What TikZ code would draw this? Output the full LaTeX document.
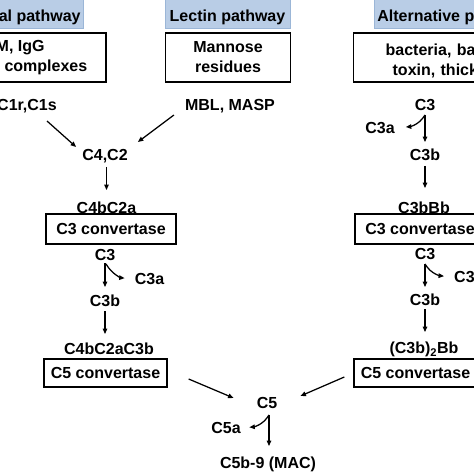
\documentclass[tikz,border=0pt]{standalone}
\usepackage{fontspec}
\setmainfont{Liberation Sans}
\usetikzlibrary{arrows.meta}
\definecolor{hdrfill}{RGB}{185,205,230}
\definecolor{hdrline}{RGB}{155,182,215}

\begin{document}
\begin{tikzpicture}[x=1pt, y=-1pt,
    every node/.style={font=\bfseries\fontsize{16}{20}\selectfont},
    lbl/.style={inner sep=0pt, text height=11.5pt, text depth=0pt},
    hdr/.style={fill=hdrfill, draw=hdrline, line width=0.8pt, minimum height=29pt,
        inner xsep=3pt, text height=15pt, text depth=0pt},
    inbox/.style={draw, line width=1.3pt, minimum height=49pt, align=center,
        execute at begin node={\rule{0pt}{17.5pt}}},
    convbox/.style={draw, line width=1.3pt, minimum height=30pt, text height=11.5pt, text depth=0pt},
    arr/.style={-{Triangle[length=5.5pt,width=4.5pt]}, line width=1.25pt}
]
\useasboundingbox (0,0) rectangle (474,474);
\clip (0,0) rectangle (474,474);

% headers and triggers
\node[hdr, anchor=east] (hdr-cl) at (84,13.5) {Classical pathway};
\node[hdr, minimum width=125pt] (hdr-lec) at (227.5,13.5) {Lectin pathway};
\node[hdr, anchor=west] (hdr-alt) at (374,13.5) {Alternative pathway};

\node[inbox, minimum width=186pt] (in-cl) at (13,57.5) {IgM, IgG\\immune complexes};
\node[inbox, minimum width=125pt] (in-lec) at (228,57.5) {Mannose\\residues};
\node[inbox, anchor=west, align=left, inner xsep=32pt, text width=100pt] (in-alt) at (353,57.5)
    {bacteria, ba\\\hspace*{7pt}toxin, thick};

% classical / lectin column
\node[lbl, anchor=east] (c1) at (57,105) {C1q,C1r,C1s};
\node[lbl] (mbl) at (230,105) {MBL, MASP};
\node[lbl] (c4c2) at (105,155) {C4,C2};
\node[lbl] (c4bc2a) at (106.5,208) {C4bC2a};
\node[convbox, minimum width=130pt] (conv3-l) at (111,229) {C3 convertase};
\node[lbl] (c3-l) at (105,255) {C3};
\node[lbl] (c3a-l) at (149.5,279) {C3a};
\node[lbl] (c3b-l) at (105,301) {C3b};
\node[lbl] (c4bc2ac3b) at (109,349) {C4bC2aC3b};
\node[convbox, minimum width=123pt, minimum height=28pt] (conv5-l) at (105.5,373) {C5 convertase};

% alternative column
\node[lbl] (c3-r1) at (425,105) {C3};
\node[lbl] (c3a-r1) at (380,128) {C3a};
\node[lbl] (c3b-r1) at (425,155) {C3b};
\node[lbl] (c3bbb) at (424,208) {C3bBb};
\node[convbox, minimum width=130pt] (conv3-r) at (420,229) {C3 convertase};
\node[lbl] (c3-r2) at (425,254) {C3};
\node[lbl, anchor=west] (c3a-r2) at (454,277) {C3a};
\node[lbl] (c3b-r2) at (425,300) {C3b};
\node[lbl] (c3b2bb) at (424,348) {(C3b)\textsubscript{2}Bb};
\node[convbox, minimum width=123pt, minimum height=28pt] (conv5-r) at (415.5,373) {C5 convertase};

% terminal pathway
\node[lbl] (c5) at (267,403) {C5};
\node[lbl] (c5a) at (226,428) {C5a};
\node[lbl] (mac) at (268,463) {C5b-9 (MAC)};

% arrows
\draw[arr] ([shift={(-10,16)}]c1.east) -- ([shift={(-6,-8)}]c4c2.west);
\draw[arr] ([shift={(-11,10)}]mbl.west) -- ([shift={(10,-13)}]c4c2.east);
\draw[arr, shorten <=6pt, shorten >=12pt] (c4bc2a.north |- c4c2.south) -- (c4bc2a.north);
\draw[arr, shorten <=2.5pt, shorten >=8pt] (c3-l.south) -- (c3b-l.north);
\draw[arr, shorten >=10pt] ([shift={(1,3)}]c3-l.south) to[out=-60, in=175] (c3a-l.west);
\draw[arr, shorten <=4.5pt, shorten >=9pt] (c3b-l.south) -- (c3b-l.south |- c4bc2ac3b.north);

\draw[arr, shorten <=4pt, shorten >=7pt] (c3-r1.south) -- (c3b-r1.north);
\draw[arr, shorten >=11pt] ([shift={(0,4)}]c3-r1.south) to[out=-120, in=5] (c3a-r1.east);
\draw[arr, shorten <=5pt, shorten >=14pt] (c3b-r1.south) -- (c3b-r1.south |- c3bbb.north);
\draw[arr, shorten <=4pt, shorten >=7pt] (c3-r2.south) -- (c3b-r2.north);
\draw[arr, shorten >=10pt] ([shift={(0,4)}]c3-r2.south) to[out=-60, in=175] (c3a-r2.west);
\draw[arr, shorten <=3.5pt, shorten >=10pt] (c3b-r2.south) -- (c3b-r2.south |- c3b2bb.north);

\draw[arr] ([shift={(21,6)}]conv5-l.east) -- ([shift={(-23,-5)}]c5.west);
\draw[arr] ([shift={(-9,4)}]conv5-r.west) -- ([shift={(23,-7)}]c5.east);
\draw[arr, shorten <=6pt, shorten >=11pt] ([xshift=2pt]c5.south) -- ([xshift=2pt]c5.south |- mac.north);
\draw[arr, shorten >=8.5pt] ([shift={(2,6)}]c5.south) to[out=-120, in=5] (c5a.east);
\end{tikzpicture}
\end{document}
